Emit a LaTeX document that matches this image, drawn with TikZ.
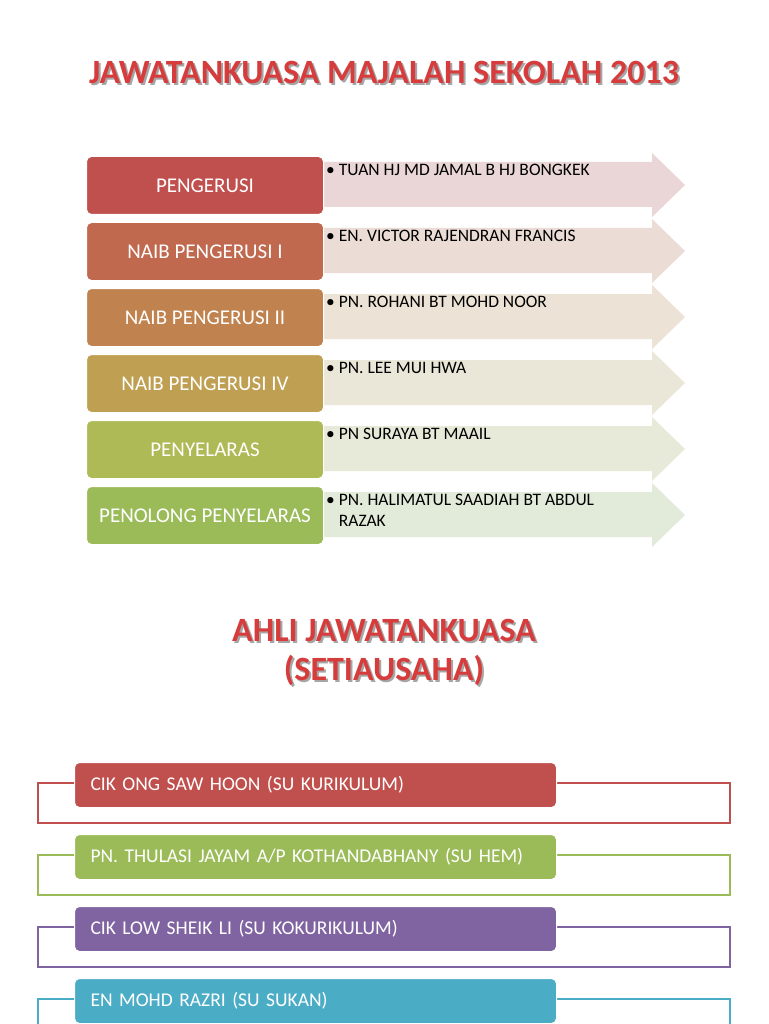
\documentclass[tikz,border=0pt]{standalone}
\usepackage{fontspec}
\setmainfont{Carlito}
\begin{document}
\begin{tikzpicture}[x=1pt,y=-1pt,
  lbox/.style={draw=white,line width=1pt,rounded corners=5pt,minimum width=237pt,minimum height=58pt,anchor=north west,text=white,font=\fontsize{21}{24}\selectfont},
  bbox/.style={draw=white,line width=1pt,rounded corners=5pt,minimum width=482pt,minimum height=45pt,anchor=north west,text=white,font=\fontsize{19.5}{22}\selectfont,text width=450pt,align=left,inner xsep=16pt},
  ttl/.style={font=\fontsize{34}{38}\selectfont\bfseries,align=center}]
\useasboundingbox (0,0) rectangle (768,1024);
\fill[white] (0,0) rectangle (768,1024);
\foreach \t/\y in {{JAWATANKUASA MAJALAH SEKOLAH 2013}/72,{AHLI JAWATANKUASA}/630,{(SETIAUSAHA)}/670}{
  \node[ttl,text=black!35] at (386,\y+2) {\t};
  \node[ttl,text={rgb,255:red,215;green,60;blue,60}] at (384,\y) {\t};
}
\definecolor{c1}{HTML}{C0504D}\definecolor{a1}{HTML}{EAD6D6}
\definecolor{c2}{HTML}{C0694F}\definecolor{a2}{HTML}{EBDCD5}
\definecolor{c3}{HTML}{C0834F}\definecolor{a3}{HTML}{ECE2D6}
\definecolor{c4}{HTML}{BFA053}\definecolor{a4}{HTML}{EBE7D8}
\definecolor{c5}{HTML}{ADBA55}\definecolor{a5}{HTML}{E7EAD9}
\definecolor{c6}{HTML}{9BBB59}\definecolor{a6}{HTML}{E2EBD9}
\foreach \i/\y/\l/\r in {1/156/PENGERUSI/{TUAN HJ MD JAMAL B HJ BONGKEK},
  2/222/NAIB PENGERUSI I/{EN. VICTOR RAJENDRAN FRANCIS},
  3/288/NAIB PENGERUSI II/{PN. ROHANI BT MOHD NOOR},
  4/354/NAIB PENGERUSI IV/{PN. LEE MUI HWA},
  5/420/PENYELARAS/{PN SURAYA BT MAAIL},
  6/486/PENOLONG PENYELARAS/{PN. HALIMATUL SAADIAH BT ABDUL RAZAK}}{
  \fill[a\i] (318,\y+6) -- (652,\y+6) -- (652,\y-3) -- (685,\y+29) -- (652,\y+61) -- (652,\y+51) -- (318,\y+51) -- cycle;
  \node[lbox,fill=c\i] (L\i) at (86,\y) {\l};
  \node[anchor=north west,inner sep=0pt,font=\fontsize{17.5}{21}\selectfont] (R\i) at (326,\y+8) {\textbullet\ \parbox[t]{300pt}{\raggedright\r}};
}
\definecolor{b1}{HTML}{C0504D}\definecolor{b2}{HTML}{9BBB59}
\definecolor{b3}{HTML}{8064A2}\definecolor{b4}{HTML}{4BACC6}
\foreach \i/\y/\t in {1/762/{CIK ONG SAW HOON (SU KURIKULUM)},
  2/834/{PN. THULASI JAYAM A/P KOTHANDABHANY (SU HEM)},
  3/906/{CIK LOW SHEIK LI (SU KOKURIKULUM)},
  4/978/{EN MOHD RAZRI (SU SUKAN)}}{
  \draw[b\i,line width=1.5pt] (74,\y+21) -- (38,\y+21) -- (38,\y+61) -- (730,\y+61) -- (730,\y+21) -- (555,\y+21);
  \node[bbox,fill=b\i] (B\i) at (74,\y) {\t};
}
\end{tikzpicture}
\end{document}
